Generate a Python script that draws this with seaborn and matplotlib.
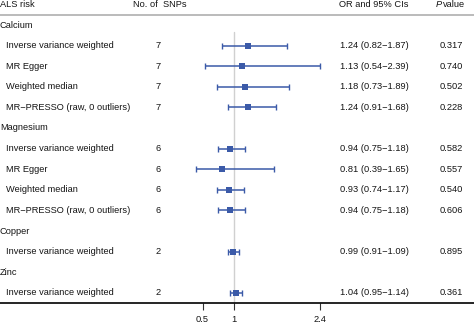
import matplotlib
matplotlib.use("Agg")
import matplotlib.pyplot as plt
import seaborn as sns
import pandas as pd
from matplotlib.transforms import blended_transform_factory

groups = ["Calcium", "Magnesium", "Copper", "Zinc"]
methods = [
    ["Inverse variance weighted", "MR Egger", "Weighted median", "MR-PRESSO (raw, 0 outliers)"],
    ["Inverse variance weighted", "MR Egger", "Weighted median", "MR-PRESSO (raw, 0 outliers)"],
    ["Inverse variance weighted"],
    ["Inverse variance weighted"],
]
n_snps = [[7, 7, 7, 7], [6, 6, 6, 6], [2], [2]]
or_vals = [[1.24, 1.13, 1.18, 1.24], [0.94, 0.81, 0.93, 0.94], [0.99], [1.04]]
lo_vals = [[0.82, 0.54, 0.73, 0.91], [0.75, 0.39, 0.74, 0.75], [0.91], [0.95]]
hi_vals = [[1.87, 2.39, 1.89, 1.68], [1.18, 1.65, 1.17, 1.18], [1.09], [1.14]]
p_vals = [["0.317", "0.740", "0.502", "0.228"], ["0.582", "0.557", "0.540", "0.606"], ["0.895"], ["0.361"]]
x_ticks = [0.5, 1, 2.4]

sns.set_theme(style="white")
plt.rcParams["font.family"] = ["Liberation Sans", "DejaVu Sans"]
plt.rcParams["axes.unicode_minus"] = True

W, H = 474, 324
fig = plt.figure(figsize=(W / 100, H / 100), dpi=100)
ax_bottom_px = 303
ax = fig.add_axes([0, (H - ax_bottom_px) / H, 1, ax_bottom_px / H])

# build rows
rows = []
ypos = 0
group_rows = []
for g, ms, ns, o, l, h, p in zip(groups, methods, n_snps, or_vals, lo_vals, hi_vals, p_vals):
    group_rows.append((g, ypos))
    ypos += 1
    for m, n, oo, ll, hh, pp in zip(ms, ns, o, l, h, p):
        rows.append(dict(group=g, method=m, n=n, OR=oo, lo=ll, hi=hh, p=pp, y=ypos))
        ypos += 1
df = pd.DataFrame(rows)

row_h = 20.6
first_px = 25
ytop = -first_px / row_h
ybot = (ax_bottom_px - first_px) / row_h
px_per_unit = 62.0
x1_px = 233.5
xl = 1 - x1_px / px_per_unit
xr = 1 + (W - x1_px) / px_per_unit
ax.set_xlim(xl, xr)
ax.set_ylim(ybot, ytop)

blue = "#3b5aa8"
txtc = "#151515"
# reference line
ax.plot([1, 1], [0.35, ybot], color="#d0d0d0", lw=1.0, zorder=1)
# CIs
ax.errorbar(df["OR"], df["y"], xerr=[df["OR"] - df["lo"], df["hi"] - df["OR"]],
            fmt="none", ecolor=blue, elinewidth=1.1, capsize=2.5, capthick=1.0, zorder=2)
sns.scatterplot(data=df, x="OR", y="y", marker="s", s=24, color=blue,
                edgecolor=blue, linewidth=0, ax=ax, zorder=3)

tr = blended_transform_factory(ax.transAxes, ax.transData)
fs = 6.7
def xf(px):
    return px / W

# header
hy = -0.98
ax.text(xf(0), hy, "ALS risk", transform=tr, fontsize=fs, va="center", ha="left", color=txtc)
ax.text(xf(133), hy, "No. of  SNPs", transform=tr, fontsize=fs, va="center", ha="left", color=txtc)
ax.text(xf(374), hy, "OR and 95% CIs", transform=tr, fontsize=fs, va="center", ha="center", color=txtc)
ax.text(xf(443), hy, "value", transform=tr, fontsize=fs, va="center", ha="left", color=txtc)
ax.text(xf(442), hy, "P", transform=tr, fontsize=fs, va="center", ha="right", style="italic", color=txtc)
ax.plot([0, 1], [-0.5, -0.5], transform=tr, color="#b5b5b5", lw=1.3, clip_on=False)

for g, y in group_rows:
    ax.text(xf(0), y, g, transform=tr, fontsize=fs, va="center", ha="left", color=txtc)
for _, r in df.iterrows():
    ax.text(xf(6), r["y"], r["method"].replace("-", "\u2212"), transform=tr, fontsize=fs, va="center", ha="left", color=txtc)
    ax.text(xf(158), r["y"], str(r["n"]), transform=tr, fontsize=fs, va="center", ha="center", color=txtc)
    txt = f"{r['OR']:.2f} ({r['lo']:.2f}\u2212{r['hi']:.2f})"
    ax.text(xf(340), r["y"], txt, transform=tr, fontsize=fs, va="center", ha="left", color=txtc)
    ax.text(xf(451), r["y"], r["p"], transform=tr, fontsize=fs, va="center", ha="center", color=txtc)

for s in ["top", "right", "left"]:
    ax.spines[s].set_visible(False)
ax.spines["bottom"].set_color("black")
ax.spines["bottom"].set_linewidth(1.2)
ax.set_xticks(x_ticks)
ax.set_xticklabels([str(t) for t in x_ticks], fontsize=fs, color=txtc)
ax.tick_params(axis="x", bottom=True, length=5, width=0.8, color="#333", pad=4)
ax.set_yticks([])
ax.set_xlabel("")
ax.set_ylabel("")

fig.savefig("out.png", dpi=100)
